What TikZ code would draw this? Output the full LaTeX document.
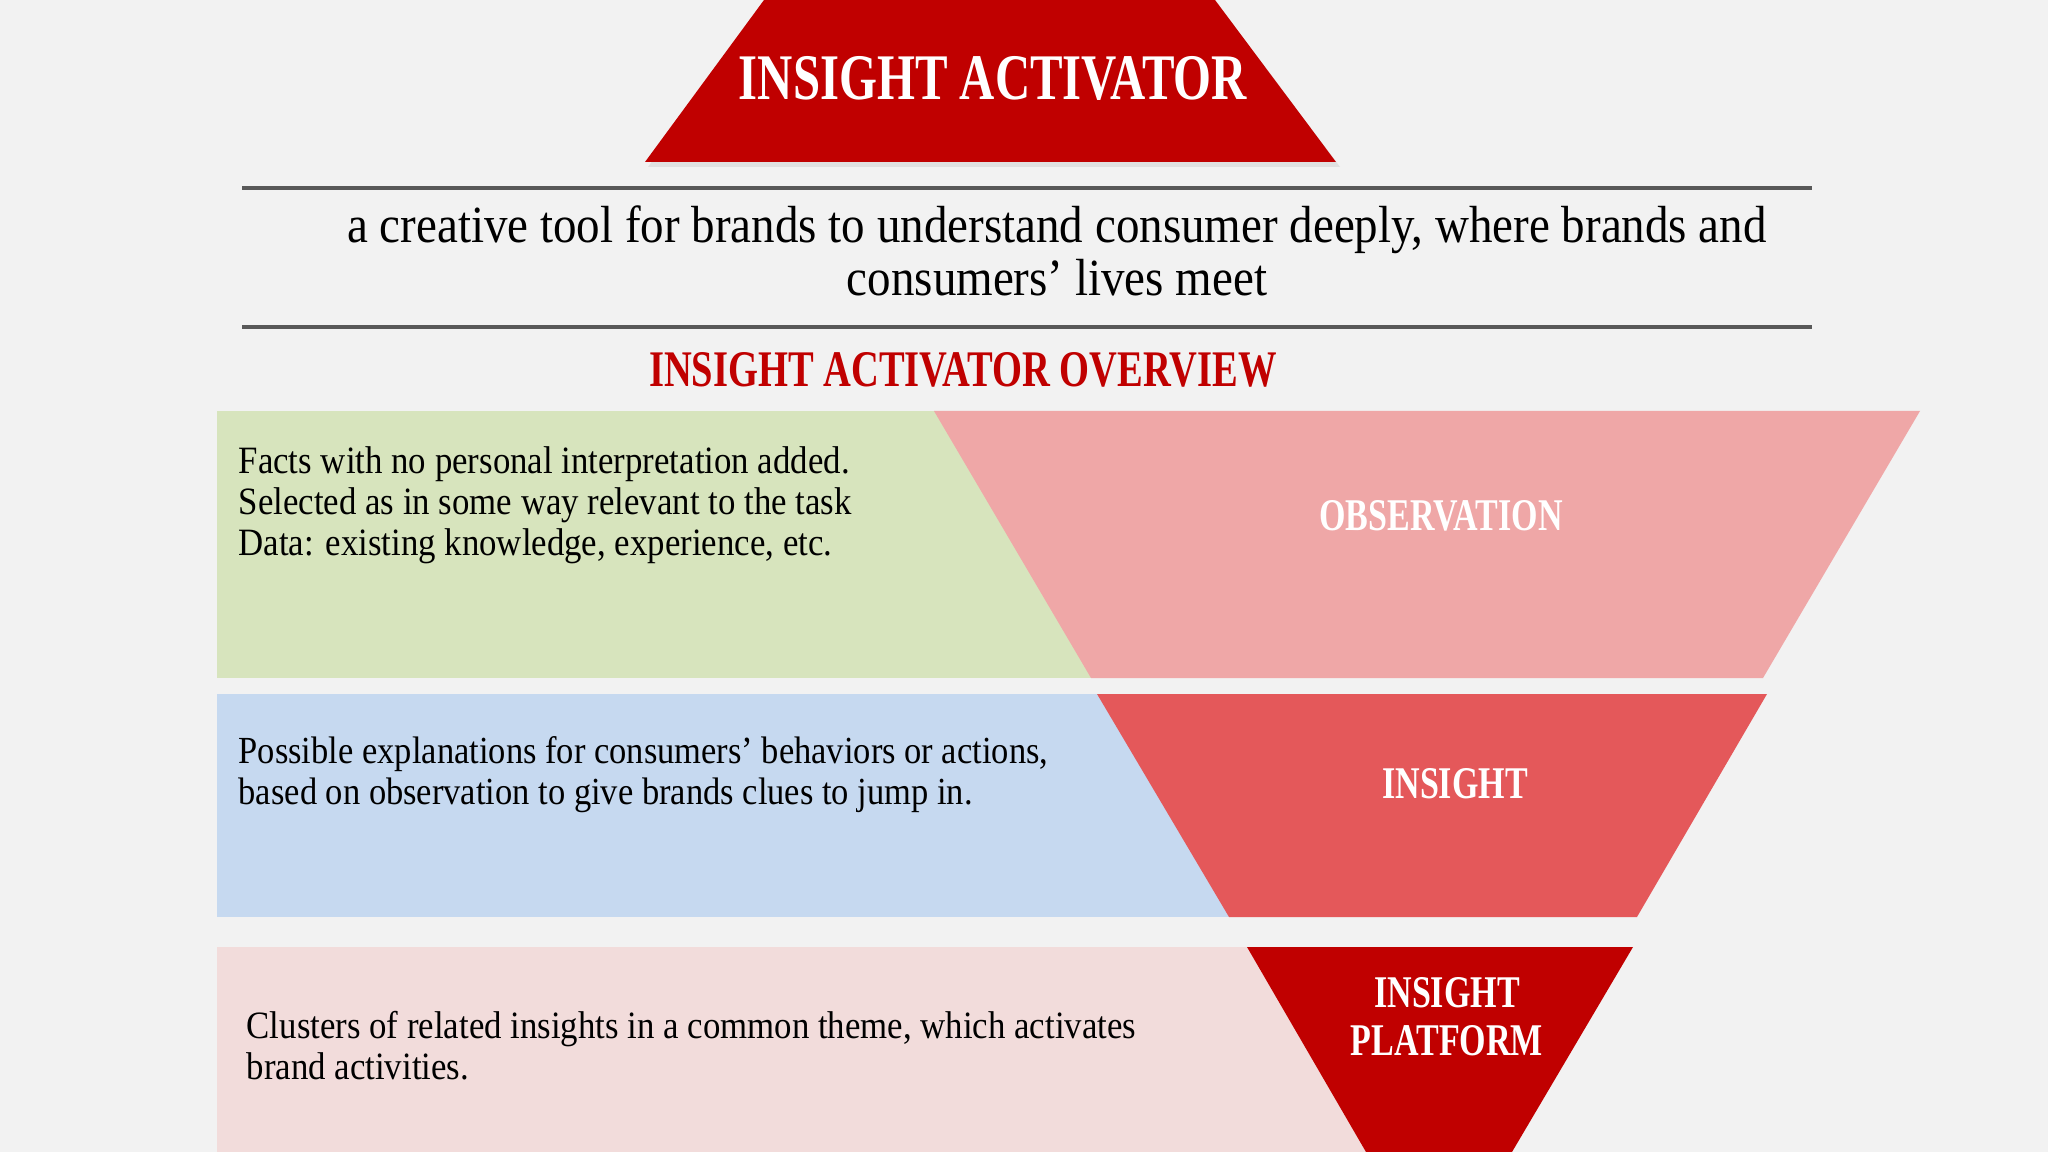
\documentclass[tikz,border=0pt]{standalone}
\usepackage{fontspec}
\setmainfont{Liberation Serif}[FakeStretch=0.9]
\newfontfamily\kopffont{Liberation Serif}[FakeStretch=0.75]
\usepackage{tikz}
\usetikzlibrary{positioning}
\usepackage{color}
\definecolor{hintergrund}{RGB}{242,242,242}
\definecolor{dunkelrot}{RGB}{192,0,0}
\definecolor{linie}{RGB}{89,89,89}
\definecolor{gruen}{RGB}{215,228,189}
\definecolor{obsrot}{RGB}{239,167,167}
\definecolor{blau}{RGB}{198,217,240}
\definecolor{insrot}{RGB}{228,88,90}
\definecolor{rosa}{RGB}{242,220,219}

\begin{document}
\begin{tikzpicture}[x=0.01cm,y=-0.01cm]
\useasboundingbox (0,0) rectangle (2048,1152);
\fill[hintergrund] (0,0) rectangle (2048,1152);
%
% path: title
\fill[black!12] (767,4) -- (1218,4) -- (1340,167) -- (648,167) -- cycle;
\fill[dunkelrot] (764,0) -- (1215,0) -- (1336,162) -- (645,162) -- cycle;

\node[text=white,inner sep=0,font=\kopffont\bfseries\fontsize{18.5}{20}\selectfont] (titel) at (993,78) {INSIGHT ACTIVATOR};
%
% path: rules
\draw[draw=linie,line width=1.4pt] (242,188) -- (1812,188);
\draw[draw=linie,line width=1.4pt] (242,327) -- (1812,327);

\node[align=center,inner sep=0,font=\fontsize{14.85}{15.1}\selectfont] (unterzeile) at (1057,251) {a creative tool for brands to understand consumer deeply, where brands and\\consumers’ lives meet};

\node[text=dunkelrot,inner sep=0,font=\kopffont\bfseries\fontsize{14.6}{16}\selectfont] (ueberblick) at (963,370) {INSIGHT ACTIVATOR OVERVIEW};
%
% path: observation
\fill[gruen] (217,411) rectangle (1095,678);
\fill[obsrot] (934,411) -- (1920,411) -- (1763,678) -- (1091,678) -- cycle;

\node[anchor=west,align=left,inner sep=0,font=\fontsize{11}{11.7}\selectfont] (beobtext) at (238,505) {Facts with no personal interpretation added.\\Selected as in some way relevant to the task\\Data: existing knowledge, experience, etc.};
\node[text=white,inner sep=0,font=\kopffont\bfseries\fontsize{12.9}{14}\selectfont] (beob) at (1441,516) {OBSERVATION};
%
% path: insight
\fill[blau] (217,694) rectangle (1232,917);
\fill[insrot] (1097,694) -- (1767,694) -- (1637,917) -- (1229,917) -- cycle;

\node[anchor=west,align=left,inner sep=0,font=\fontsize{10.9}{11.7}\selectfont] (einsichttext) at (238,775) {Possible explanations for consumers’ behaviors or actions,\\based on observation to give brands clues to jump in.};
\node[text=white,inner sep=0,font=\kopffont\bfseries\fontsize{12.9}{14}\selectfont] (einsicht) at (1455,784) {INSIGHT};
%
% path: platform
\fill[rosa] (217,947) rectangle (1370,1152);
\fill[dunkelrot] (1247,947) -- (1633,947) -- (1512,1152) -- (1366,1152) -- cycle;

\node[anchor=west,align=left,inner sep=0,font=\fontsize{11}{11.7}\selectfont] (plattformtext) at (246,1046) {Clusters of related insights in a common theme, which activates\\brand activities.};
\node[text=white,align=center,inner sep=0,font=\kopffont\bfseries\fontsize{12.9}{13.6}\selectfont] (plattform) at (1447,1017) {INSIGHT\\PLATFORM};

\end{tikzpicture}
\end{document}
